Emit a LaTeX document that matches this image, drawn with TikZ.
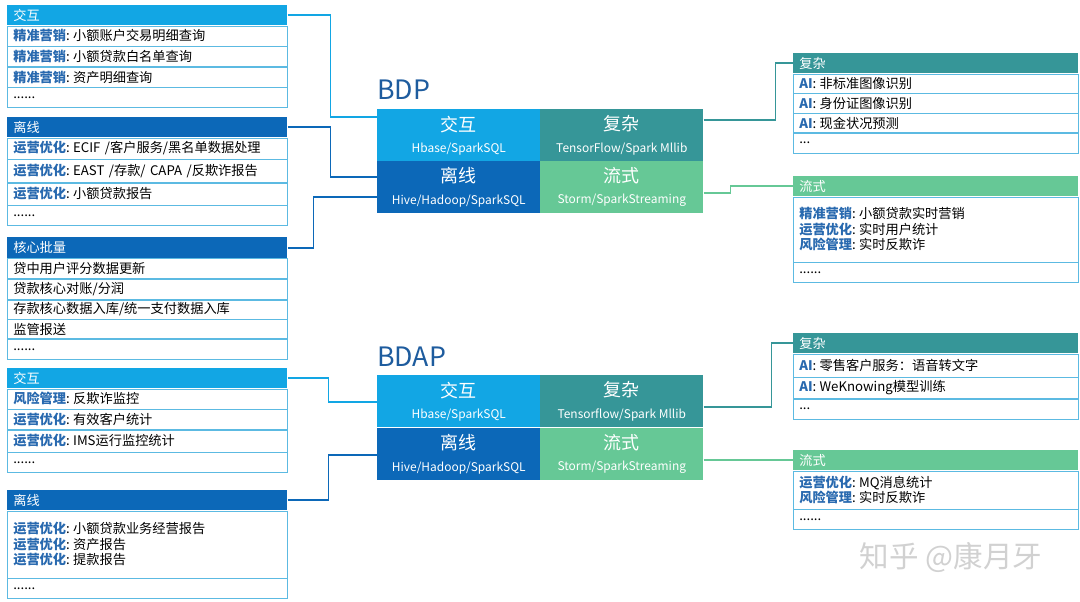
\documentclass[tikz,border=0pt]{standalone}
\usepackage{fontspec}
\setmainfont{Noto Sans CJK SC}
\usepackage{xcolor}
\usepackage{tikz}
\usetikzlibrary{positioning,calc}
\definecolor{cA}{RGB}{18,166,228}
\definecolor{cB}{RGB}{12,104,184}
\definecolor{cC}{RGB}{54,150,152}
\definecolor{cD}{RGB}{102,200,150}
\definecolor{edge}{RGB}{92,186,226}
\definecolor{kwblue}{RGB}{40,105,175}
\definecolor{ttl}{RGB}{30,92,158}
\newcommand{\kw}[1]{{\color{kwblue}\bfseries #1}:\hspace{0.25em}}
\newcommand{\rowfont}{\fontsize{9.4}{11}\selectfont}
\newcommand{\subtxt}{\fontsize{8.5}{10}\selectfont}

\begin{document}
\begin{tikzpicture}[x=0.025cm, y=-0.025cm,
  hd/.style={rectangle, anchor=north west, minimum height=0.5cm, text width=6.7cm,
             inner xsep=0.15cm, inner ysep=0pt, align=left, font=\rowfont, text=white},
  rw/.style={rectangle, draw=edge, fill=white, minimum height=0.5cm, text width=6.7cm,
             inner xsep=0.15cm, inner ysep=0pt, align=left, font=\rowfont},
  wide/.style={text width=6.825cm},
  cell/.style={rectangle, anchor=north west, minimum width=4.075cm, minimum height=1.3cm,
               inner sep=0pt, align=center, text=white, font=\fontsize{12.8}{15}\selectfont},
  lnk/.style={line width=1.2pt}
]
  \useasboundingbox (0,0) rectangle (1080,602);

  % BDP
  \node[anchor=base west, inner sep=0pt, text=ttl, font=\fontsize{19}{21}\selectfont] (bdpT) at (377,100) {BDP};
  \node[cell, fill=cA] (bdpA) at (377,109) {交互\\{\subtxt Hbase/SparkSQL}};
  \node[cell, fill=cC] (bdpC) at (540,109) {复杂\\{\subtxt TensorFlow/Spark Mllib}};
  \node[cell, fill=cB] (bdpB) at (377,161) {离线\\{\subtxt Hive/Hadoop/SparkSQL}};
  \node[cell, fill=cD] (bdpD) at (540,161) {流式\\{\subtxt Storm/SparkStreaming}};

  % BDAP
  \node[anchor=base west, inner sep=0pt, text=ttl, font=\fontsize{19}{21}\selectfont] (bdapT) at (377,367) {BDAP};
  \node[cell, fill=cA] (qA) at (377,375) {交互\\{\subtxt Hbase/SparkSQL}};
  \node[cell, fill=cC] (qC) at (540,375) {复杂\\{\subtxt Tensorflow/Spark Mllib}};
  \node[cell, fill=cB] (qB) at (377,428) {离线\\{\subtxt Hive/Hadoop/SparkSQL}};
  \node[cell, fill=cD] (qD) at (540,428) {流式\\{\subtxt Storm/SparkStreaming}};

  % left panels
  \node[hd, fill=cA] (hA1) at (7,5) {交互};
  \node[rw, below=0pt of hA1] (a1) {\kw{精准营销}小额账户交易明细查询};
  \node[rw, below=0pt of a1] (a2) {\kw{精准营销}小额贷款白名单查询};
  \node[rw, below=0pt of a2] (a3) {\kw{精准营销}资产明细查询};
  \node[rw, below=0pt of a3] (a4) {......};

  \node[hd, fill=cB] (hB1) at (7,117) {离线};
  \node[rw, below=0pt of hB1, minimum height=0.53cm] (b1) {\kw{运营优化}ECIF /客户服务/黑名单数据处理};
  \node[rw, below=0pt of b1, minimum height=0.57cm] (b2) {\kw{运营优化}EAST /存款/ CAPA /反欺诈报告};
  \node[rw, below=0pt of b2, minimum height=0.55cm] (b3) {\kw{运营优化}小额贷款报告};
  \node[rw, below=0pt of b3] (b4) {......};

  \node[hd, fill=cB, minimum height=0.52cm] (hK) at (7,237) {核心批量};
  \node[rw, below=0pt of hK] (k1) {贷中用户评分数据更新};
  \node[rw, below=0pt of k1] (k2) {贷款核心对账/分润};
  \node[rw, below=0pt of k2, minimum height=0.48cm] (k3) {存款核心数据入库/统一支付数据入库};
  \node[rw, below=0pt of k3, minimum height=0.48cm] (k4) {监管报送};
  \node[rw, below=0pt of k4] (k5) {......};

  \node[hd, fill=cA] (hA2) at (7,368) {交互};
  \node[rw, below=0pt of hA2] (e1) {\kw{风险管理}反欺诈监控};
  \node[rw, below=0pt of e1] (e2) {\kw{运营优化}有效客户统计};
  \node[rw, below=0pt of e2, minimum height=0.55cm] (e3) {\kw{运营优化}IMS运行监控统计};
  \node[rw, below=0pt of e3] (e4) {......};

  \node[hd, fill=cB] (hB2) at (7,490) {离线};
  \node[rw, below=0pt of hB2, minimum height=1.675cm] (f1) {\kw{运营优化}小额贷款业务经营报告\\\kw{运营优化}资产报告\\\kw{运营优化}提款报告};
  \node[rw, below=0pt of f1] (f2) {......};

  % right panels
  \node[hd, wide, fill=cC] (hC1) at (793,53) {复杂};
  \node[rw, wide, below=0pt of hC1, minimum height=0.48cm] (c1) {\kw{AI}非标准图像识别};
  \node[rw, wide, below=0pt of c1, minimum height=0.48cm] (c2) {\kw{AI}身份证图像识别};
  \node[rw, wide, below=0pt of c2, minimum height=0.48cm] (c3) {\kw{AI}现金状况预测};
  \node[rw, wide, below=0pt of c3] (c4) {...};

  \node[hd, wide, fill=cD] (hD1) at (793,176) {流式};
  \node[rw, wide, below=0pt of hD1, minimum height=1.625cm] (d1) {\kw{精准营销}小额贷款实时营销\\\kw{运营优化}实时用户统计\\\kw{风险管理}实时反欺诈};
  \node[rw, wide, below=0pt of d1] (d2) {......};

  \node[hd, wide, fill=cC] (hC2) at (793,333) {复杂};
  \node[rw, wide, below=0pt of hC2, minimum height=0.575cm] (g1) {\kw{AI}零售客户服务：语音转文字};
  \node[rw, wide, below=0pt of g1, minimum height=0.525cm] (g2) {\kw{AI}WeKnowing模型训练};
  \node[rw, wide, below=0pt of g2] (g3) {...};

  \node[hd, wide, fill=cD] (hD2) at (793,450) {流式};
  \node[rw, wide, below=0pt of hD2, minimum height=0.95cm] (m1) {\kw{运营优化}MQ消息统计\\\kw{风险管理}实时反欺诈};
  \node[rw, wide, below=0pt of m1] (m2) {......};

  % connectors
  \draw[lnk, cA] (hA1.east) -- ++(43,0) |- ($(bdpA.north west)+(0,8)$);
  \draw[lnk, cB] (hB1.east) -- ++(43,0) |- ($(bdpB.north west)+(0,16)$);
  \draw[lnk, cB] (hK.east) -- ++(26,0) |- ($(bdpB.north west)+(0,36)$);
  \draw[lnk, cC] ($(bdpC.north east)+(0,11)$) -- ++(72,0) |- (hC1.west);
  \draw[lnk, cD] ($(bdpD.north east)+(0,32)$) -- ++(27,0) |- (hD1.west);

  \draw[lnk, cA] (hA2.east) -- ++(41,0) |- ($(qA.north west)+(0,27)$);
  \draw[lnk, cB] (hB2.east) -- ++(41,0) |- ($(qB.north west)+(0,27)$);
  \draw[lnk, cC] ($(qC.north east)+(0,32)$) -- ++(68,0) |- (hC2.west);
  \draw[lnk, cD] (hD2.west -| qD.east) -- (hD2.west);

  \node[text=black!18, font=\fontsize{21}{24}\selectfont] (wm) at (951,558) {知乎 @康月牙};
\end{tikzpicture}
\end{document}
